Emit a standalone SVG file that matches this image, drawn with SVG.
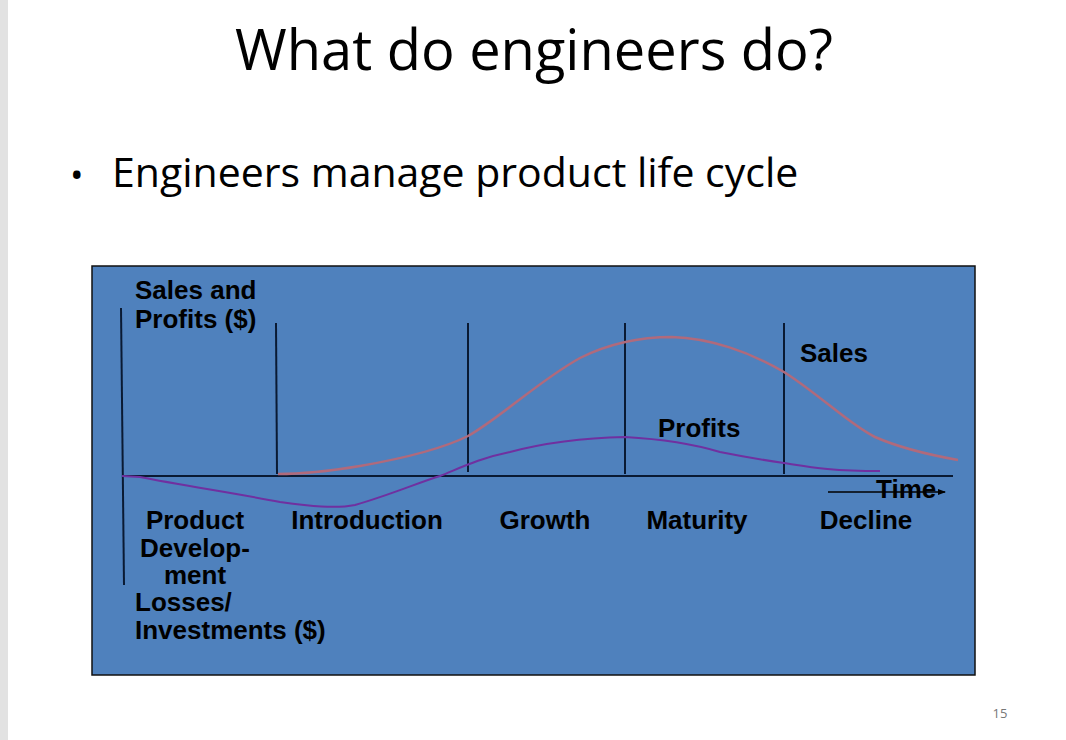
<svg xmlns="http://www.w3.org/2000/svg" width="1066" height="740" viewBox="0 0 1066 740">
<style>
.lbl{font-family:"Liberation Sans",Arial,sans-serif;font-weight:bold;font-size:26px;fill:#000}
.c{text-anchor:middle}
.ax{stroke:#0a1a33;stroke-width:2;fill:none}
</style>
<defs><marker id="ah" markerWidth="8" markerHeight="8" refX="7" refY="4" orient="auto" markerUnits="userSpaceOnUse"><path d="M0,1 L8,4 L0,7 Z" fill="#000"/></marker></defs>
<rect width="1066" height="740" fill="#fff"/>
<rect x="0" y="0" width="8" height="740" fill="#e2e2e2"/>
<text x="534" y="70" text-anchor="middle" font-family="Open Sans,sans-serif" font-size="56" fill="#000">What do engineers do?</text>
<text x="70" y="188" font-family="Open Sans,sans-serif" font-size="36" fill="#000">•</text>
<text x="112" y="187" font-family="Open Sans,sans-serif" font-size="41" fill="#000">Engineers manage product life cycle</text>
<g id="chart">
<rect x="92" y="266" width="883" height="409" fill="#4f81bd" stroke="#111" stroke-width="1.5"/>
</g>
<g id="connectors">
<line class="ax" x1="121" y1="308" x2="124" y2="585"/>
<line class="ax" x1="122" y1="476" x2="953" y2="476"/>
<line class="ax" x1="276" y1="323" x2="277" y2="474"/>
<line class="ax" x1="468" y1="323" x2="468" y2="472"/>
<line class="ax" x1="625" y1="323" x2="625" y2="474"/>
<line class="ax" x1="784" y1="323" x2="784" y2="474"/>
<path d="M278,474 C300,474 330,471 360,466 C400,459 440,450 468,436 C500,418 540,380 580,358 C610,343 640,337 672,337 C710,338 750,352 784,372 C820,395 850,425 875,437 C900,448 930,455 958,460" fill="none" stroke="#b06a7c" stroke-width="2.5"/>
<path d="M122,476 L140,477 C180,485 240,494 280,502 C310,506 335,509 355,505 C390,495 420,482 440,476 C460,468 480,458 510,452 C540,444 580,438 625,437 C660,439 690,443 720,452 C750,458 770,461 784,463 C810,467 830,471 880,471" fill="none" stroke="#7030a0" stroke-width="2"/>
<line x1="828" y1="492" x2="945" y2="492" stroke="#000" stroke-width="1.5" marker-end="url(#ah)"/>
</g>
<g id="labels">
<text class="lbl" x="135" y="299">Sales and</text>
<text class="lbl" x="135" y="328">Profits ($)</text>
<text class="lbl c" x="195" y="529">Product</text>
<text class="lbl c" x="195" y="557">Develop-</text>
<text class="lbl c" x="195" y="584">ment</text>
<text class="lbl" x="135" y="611">Losses/</text>
<text class="lbl" x="135" y="639">Investments ($)</text>
<text class="lbl c" x="367" y="529">Introduction</text>
<text class="lbl c" x="545" y="529">Growth</text>
<text class="lbl c" x="697" y="529">Maturity</text>
<text class="lbl c" x="866" y="529">Decline</text>
<text class="lbl" x="800" y="362">Sales</text>
<text class="lbl" x="658" y="437">Profits</text>
<text class="lbl" x="876" y="498" font-size="23">Time</text>
</g>
<text x="1000" y="718" text-anchor="middle" font-family="Open Sans,sans-serif" font-size="13" fill="#777">15</text>
</svg>
